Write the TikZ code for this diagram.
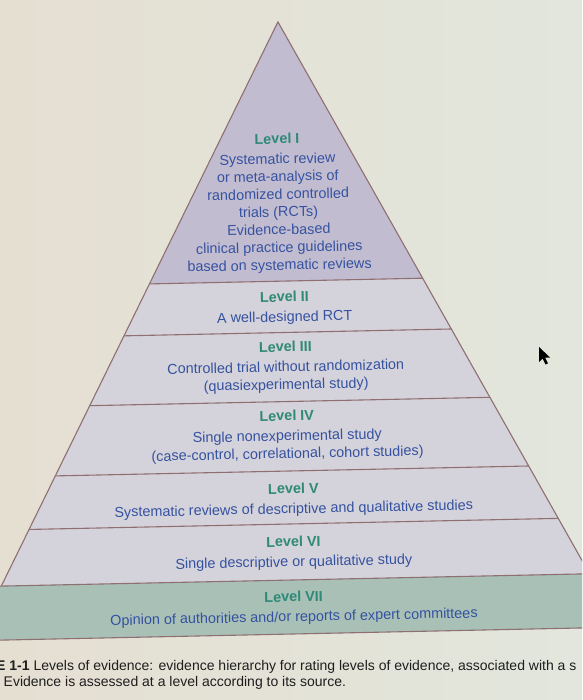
\documentclass[tikz,border=0pt]{standalone}
\usepackage{fontspec}
\setmainfont{Liberation Sans}
\usetikzlibrary{calc,positioning}
\definecolor{pyrline}{HTML}{8E6F72}
\definecolor{pyrtop}{HTML}{C2BCD0}
\definecolor{pyrmid}{HTML}{D4D2DA}
\definecolor{pyrbase}{HTML}{A8C0B6}
\definecolor{lvlgreen}{HTML}{2E8A76}
\definecolor{txtblue}{HTML}{3552A0}
\definecolor{bgleft}{HTML}{E5DFD2}
\definecolor{bgright}{HTML}{E2E6DC}
\definecolor{captext}{HTML}{1E1E1E}
\tikzstyle{tier} = [align=center, anchor=north, inner sep=0pt, text=txtblue,
    font=\fontsize{14.4}{17.7}\selectfont]
\tikzstyle{band} = [draw=pyrline, line width=1.1pt]
\tikzstyle{capline} = [anchor=base west, inner sep=0pt, text=captext,
    font=\fontsize{14}{17}\selectfont]
\newcommand{\lvname}[1]{\textcolor{lvlgreen}{\bfseries Level #1}}

\begin{document}
\begin{tikzpicture}[x=1pt, y=-1pt]
\useasboundingbox (0,0) rectangle (582,700);
\clip (0,0) rectangle (582,700);
\shade[left color=bgleft, right color=bgright] (-5,-5) rectangle (590,705);

\begin{scope}[rotate around={1.2:(290,330)}, transform shape]
\coordinate (apex) at (284.4,21.7);
\coordinate (bl) at (-4,580);
\coordinate (br) at (584.4,580);

\fill[pyrmid] (apex) -- (br) -- (bl) -- cycle;
\fill[pyrtop] (apex) -- ($(apex)!0.4644!(br)$) -- ($(apex)!0.4644!(bl)$) -- cycle;
\fill[pyrbase] (-20,580) rectangle (610,634);

\draw[band] (bl) -- (apex) -- (br);
\foreach \y in {281,332.4,401.5,471,524}
  \draw[band] ($(apex)!{(\y-21.7)/558.3}!(bl)$) -- ($(apex)!{(\y-21.7)/558.3}!(br)$);
\draw[band] (-20,580) -- (610,580);
\draw[band] (-20,634) -- (610,634);

\node[tier] (lvone) at (281,133) {\lvname{I}\\[2.3pt]Systematic review\\or meta-analysis of\\randomized controlled\\trials (RCTs)\\Evidence-based\\clinical practice guidelines\\based on systematic reviews};
\node[tier] (lvtwo) at (285,291) {\lvname{II}\\[2.3pt]A well-designed RCT};
\node[tier] (lvthree) at (285,341) {\lvname{III}\\[2.3pt]Controlled trial without randomization\\(quasiexperimental study)};
\node[tier] (lvfour) at (285,410) {\lvname{IV}\\[2.3pt]Single nonexperimental study\\(case-control, correlational, cohort studies)};
\node[tier] (lvfive) at (290,483) {\lvname{V}\\[2.3pt]Systematic reviews of descriptive and qualitative studies};
\node[tier] (lvsix) at (289,536) {\lvname{VI}\\[2.3pt]Single descriptive or qualitative study};
\node[tier] (lvseven) at (288,591) {\lvname{VII}\\[2.3pt]Opinion of authorities and/or reports of expert committees};
\end{scope}

\node[capline] (capa) at (-4,670.5) {\textbf{E 1-1} Levels of evidence: evidence hierarchy for rating levels of evidence, associated with a s};
\node[capline] (capb) at (3.5,686.5) {Evidence is assessed at a level according to its source.};

\fill[black] (539,347) -- (539,362) -- (542.5,358.5) -- (545.5,364.5) -- (548,363.3) -- (545,357.5) -- (550,357.5) -- cycle;
\end{tikzpicture}
\end{document}
